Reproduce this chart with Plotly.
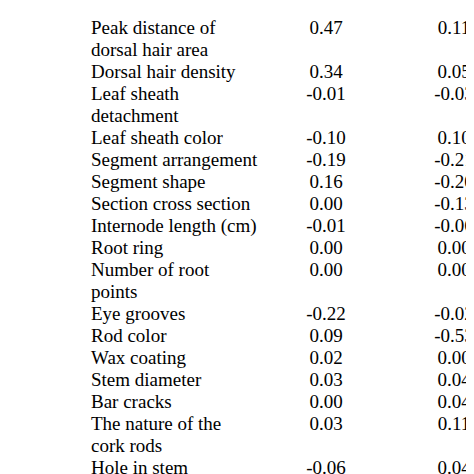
import plotly.graph_objects as go

codes = ['', 'P3', 'P4', 'P5', 'P6', 'R1', 'R2', 'R3', 'R4', 'R5', 'R6', 'R7',
         'B1', 'B2', 'B3', 'B4', 'B5', 'B6']
traits = [['area'],
          ['Peak distance of', 'dorsal hair area'],
          ['Dorsal hair density'],
          ['Leaf sheath', 'detachment'],
          ['Leaf sheath color'],
          ['Segment arrangement'],
          ['Segment shape'],
          ['Section cross section'],
          ['Internode length (cm)'],
          ['Root ring'],
          ['Number of root', 'points'],
          ['Eye grooves'],
          ['Rod color'],
          ['Wax coating'],
          ['Stem diameter'],
          ['Bar cracks'],
          ['The nature of the', 'cork rods'],
          ['Hole in stem']]
values_1 = ['', '0.47', '0.34', '-0.01', '-0.10', '-0.19', '0.16', '0.00', '-0.01',
            '0.00', '0.00', '-0.22', '0.09', '0.02', '0.03', '0.00', '0.03', '-0.06']
values_2 = ['', '0.11', '0.05', '-0.03', '0.10', '-0.21', '-0.20', '-0.13', '-0.06',
            '0.00', '0.00', '-0.02', '-0.53', '0.00', '0.04', '0.04', '0.11', '0.04']

# lay rows out by line number, wrapped traits take extra lines
code_y, trait_y, trait_t = [], [], []
line = 0
for t in traits:
    code_y.append(line)
    for part in t:
        trait_y.append(line)
        trait_t.append(part)
        line += 1

font = dict(family='Liberation Serif', size=19, color='black')
fig = go.Figure()
fig.add_trace(go.Scatter(x=[-7] * len(codes), y=code_y, text=codes, mode='text',
                         textposition='middle right', textfont=font, cliponaxis=False))
fig.add_trace(go.Scatter(x=[83] * len(trait_t), y=trait_y, text=trait_t, mode='text',
                         textposition='middle right', textfont=font, cliponaxis=False))
fig.add_trace(go.Scatter(x=[318] * len(values_1), y=code_y, text=values_1, mode='text',
                         textposition='middle center', textfont=font, cliponaxis=False))
fig.add_trace(go.Scatter(x=[446] * len(values_2), y=code_y, text=values_2, mode='text',
                         textposition='middle center', textfont=font, cliponaxis=False))

step = 22.0
top = -1
fig.update_layout(
    width=474, height=474, margin=dict(l=0, r=0, t=0, b=0),
    paper_bgcolor='white', plot_bgcolor='white', showlegend=False,
    xaxis=dict(range=[0, 474], visible=False, fixedrange=True),
    yaxis=dict(range=[(474 - top) / step, -top / step], visible=False, fixedrange=True),
)
fig.write_html('out.html')
